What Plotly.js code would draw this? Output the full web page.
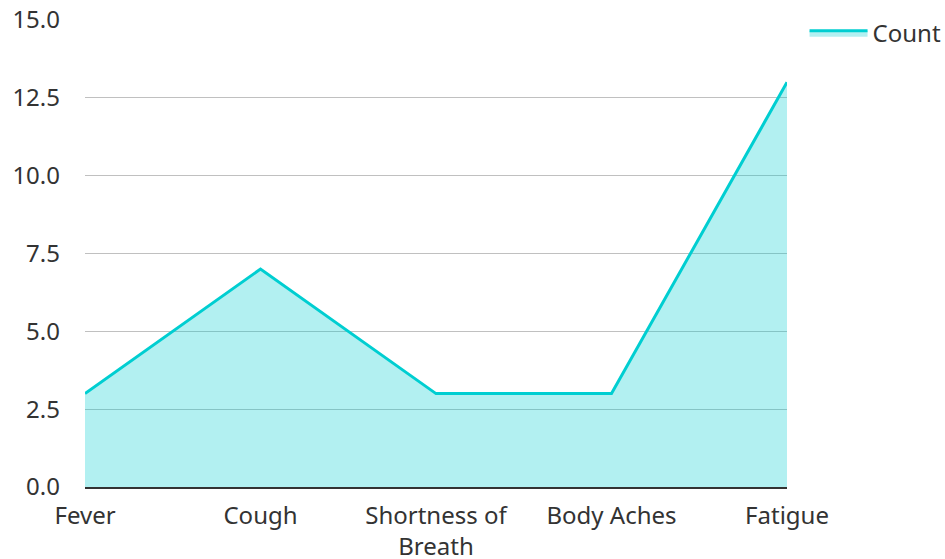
<!DOCTYPE html>
<html><head><meta charset="utf-8">
<script src="https://cdn.plot.ly/plotly-3.0.1.min.js"></script>
<style>body{margin:0}#c{width:945px;height:559px}</style>
</head><body><div id="c"></div>
<script>
const categories = ["Fever", "Cough", "Shortness of<br>Breath", "Body Aches", "Fatigue"];
const counts = [3, 7, 3, 3, 13];
const seriesName = "Count";
const yTicks = [0, 2.5, 5, 7.5, 10, 12.5, 15];

Plotly.newPlot("c", [{
  x: categories, y: counts, name: seriesName, type: "scatter", mode: "lines",
  fill: "tozeroy", fillcolor: "rgba(0,206,209,0.3)",
  line: {color: "#00CED1", width: 3}
}], {
  width: 945, height: 559,
  margin: {l: 85, r: 158, t: 20, b: 72, autoexpand: false},
  paper_bgcolor: "white", plot_bgcolor: "white",
  font: {family: "Noto Sans, Open Sans, sans-serif", size: 24, color: "#333"},
  showlegend: true,
  legend: {x: 1.025, y: 1.02, xanchor: "left", yanchor: "top", font: {size: 24}, itemwidth: 58},
  xaxis: {type: "category", range: [0, 4], showgrid: false, showline: true, linecolor: "#333", linewidth: 2, ticks: "", ticklabelstandoff: 6, tickfont: {size: 24}},
  yaxis: {range: [0, 15], tickvals: yTicks, ticktext: yTicks.map(v => v.toFixed(1)), showgrid: true, gridcolor: "#c0c0c0", gridwidth: 1, zeroline: false, showline: false, ticks: "", ticklabelstandoff: 24, tickfont: {size: 24}}
}, {displayModeBar: false});
</script></body></html>
